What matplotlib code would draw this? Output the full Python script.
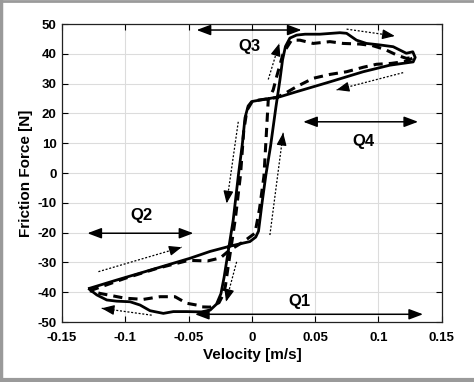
import matplotlib
matplotlib.use("Agg")
import matplotlib.pyplot as plt
from matplotlib.lines import Line2D

plt.rcParams['font.family'] = ['Liberation Sans', 'DejaVu Sans']
plt.rcParams['font.weight'] = 'bold'
plt.rcParams['axes.unicode_minus'] = False

# ---------------- data ----------------
solid_v = [-0.1284, -0.1068, -0.0805, -0.0489, -0.0330, -0.0205, -0.0100, -0.0016,
           0.0030, 0.0052, 0.0080, 0.0110, 0.0147, 0.0190, 0.0221, 0.0242, 0.0265,
           0.0300, 0.0353, 0.0420, 0.0537, 0.0695, 0.0748, 0.0826, 0.0905, 0.1010,
           0.1116, 0.1220, 0.1271, 0.1290, 0.1274, 0.1090, 0.0879, 0.0616, 0.0353,
           0.0221, 0.0090, -0.0002, -0.0030, -0.0055, -0.0075, -0.0107, -0.0148,
           -0.0190, -0.0220, -0.0245, -0.0280, -0.0330, -0.0400, -0.0516, -0.0621,
           -0.0700, -0.0805, -0.0884, -0.0963, -0.1068, -0.1147, -0.1226, -0.1284]
solid_f = [-38.7, -35.9, -32.6, -28.6, -26.3, -24.9, -23.8, -23.0,
           -21.5, -19.5, -10.0, -0.7, 9.0, 22.3, 31.2, 38.0, 42.5,
           45.3, 46.3, 46.6, 46.6, 47.1, 46.9, 44.6, 43.5, 43.0,
           42.4, 40.2, 40.7, 38.8, 37.3, 36.2, 34.0, 30.6, 27.3,
           25.6, 24.7, 24.0, 22.5, 18.5, 10.0, -0.7, -15.8,
           -27.0, -35.0, -40.5, -44.0, -46.0, -46.6, -46.5, -46.5,
           -47.1, -46.2, -44.3, -43.2, -43.0, -42.6, -40.9, -39.0]

dashed_v = [-0.1280, -0.1000, -0.0750, -0.0500, -0.0350, -0.0250, -0.0180, -0.0069,
            0.0024, 0.0060, 0.0095, 0.0129, 0.0168, 0.0195, 0.0247, 0.0313, 0.0379,
            0.0484, 0.0616, 0.0721, 0.0850, 0.0950, 0.1050, 0.1150, 0.1220, 0.1280,
            0.1220, 0.1100, 0.0984, 0.0879, 0.0748, 0.0616, 0.0484, 0.0353, 0.0260,
            0.0190, 0.0090, 0.0005, -0.0040, -0.0065, -0.0090, -0.0130, -0.0165,
            -0.0190, -0.0210, -0.0230, -0.0260, -0.0330, -0.0410, -0.0437, -0.0516,
            -0.0608, -0.0726, -0.0858, -0.1003, -0.1200, -0.1280]
dashed_f = [-39.5, -35.3, -32.0, -29.3, -29.5, -28.5, -26.0, -23.1,
            -20.2, -12.0, -1.0, 24.5, 27.9, 32.3, 40.2, 44.6, 44.6,
            43.5, 44.1, 43.5, 43.3, 42.8, 41.5, 39.5, 38.5, 38.8,
            37.5, 36.8, 36.5, 35.5, 34.0, 33.1, 31.8, 29.0, 26.7,
            25.3, 24.7, 24.2, 21.0, 14.0, -0.5, -15.0, -25.0,
            -32.0, -38.0, -41.0, -43.5, -45.0, -44.9, -44.3, -43.7,
            -41.5, -41.5, -42.4, -42.0, -40.4, -39.5]

# dotted direction arrows: start and end points
dir_x0 = [0.0748, 0.1195, 0.0129, 0.0142, -0.0108, -0.0121, -0.0792, -0.1213]
dir_y0 = [48.3, 33.7, 31.4, -20.8, 17.2, -29.8, -47.7, -33.1]
dir_x1 = [0.1129, 0.0669, 0.0216, 0.0247, -0.0200, -0.0205, -0.1187, -0.0555]
dir_y1 = [46.0, 27.9, 43.5, 13.5, -10.2, -43.2, -45.4, -24.9]

# quadrant ranges
q_names = ['Q1', 'Q2', 'Q3', 'Q4']
q_x0 = [-0.0450, -0.1300, -0.0437, 0.0405]
q_x1 = [0.1352, -0.0463, 0.0392, 0.1313]
q_y = [-47.4, -20.2, 48.0, 17.2]
q_lx = [0.0379, -0.0871, -0.0016, 0.0879]
q_ly = [-43.2, -14.1, 42.4, 10.5]

xticks = [-0.15, -0.1, -0.05, 0, 0.05, 0.1, 0.15]
xticklabels = ['-0.15', '-0.1', '-0.05', '0', '0.05', '0.1', '0.15']
yticks = [-50, -40, -30, -20, -10, 0, 10, 20, 30, 40, 50]

# ---------------- figure ----------------
fig = plt.figure(figsize=(4.74, 3.82), dpi=100)
ax = fig.add_axes([0.131, 0.157, 0.801, 0.780])

ax.plot(solid_v, solid_f, color='black', lw=2.0, solid_joinstyle='round', zorder=3)
ax.plot(dashed_v, dashed_f, color='black', lw=2.2, linestyle=(0, (3, 2)), zorder=3)

for xa, ya, xb, yb in zip(dir_x0, dir_y0, dir_x1, dir_y1):
    ax.plot([xa, xb], [ya, yb], color='black', lw=0.9, linestyle=(0, (1.6, 1.4)), zorder=4)
    dx = (xb - xa) * 0.12
    dy = (yb - ya) * 0.12
    ax.annotate('', xy=(xb, yb), xytext=(xb - dx, yb - dy),
                arrowprops=dict(arrowstyle='-|>,head_length=0.75,head_width=0.3',
                                color='black', lw=0.9, shrinkA=0, shrinkB=0),
                zorder=5)

for name, xa, xb, yy, lx, ly in zip(q_names, q_x0, q_x1, q_y, q_lx, q_ly):
    ax.annotate('', xy=(xb, yy), xytext=(xa, yy),
                arrowprops=dict(arrowstyle='<|-|>,head_length=0.85,head_width=0.32',
                                color='black', lw=1.1, shrinkA=0, shrinkB=0), zorder=5)
    ax.text(lx, ly, name, fontsize=12, fontweight='bold', ha='center', va='center')

ax.set_xlim(-0.15, 0.15)
ax.set_ylim(-50, 50)
ax.set_xticks(xticks)
ax.set_xticklabels(xticklabels)
ax.set_yticks(yticks)
ax.grid(True, color='#dcdcdc', lw=0.8)
ax.set_axisbelow(True)
ax.tick_params(direction='in', top=True, right=True, length=4, width=0.8,
               labelsize=9.5, pad=4)
ax.tick_params(axis='x', pad=7)
for lab in ax.get_xticklabels() + ax.get_yticklabels():
    lab.set_fontweight('bold')
for sp in ax.spines.values():
    sp.set_linewidth(0.9)
    sp.set_color('#222222')

ax.set_xlabel('Velocity [m/s]', fontsize=11, fontweight='bold', labelpad=3)
ax.set_ylabel('Friction Force [N]', fontsize=11, fontweight='bold', labelpad=3)

# gray border of the picture
fig.add_artist(Line2D([0.002, 0.002], [0, 1], transform=fig.transFigure, color='#9a9a9a', lw=2.5))
fig.add_artist(Line2D([0, 1], [0.998, 0.998], transform=fig.transFigure, color='#9a9a9a', lw=2))
fig.add_artist(Line2D([0, 1], [0.005, 0.005], transform=fig.transFigure, color='#9a9a9a', lw=3))

fig.savefig('out.png', dpi=100)
